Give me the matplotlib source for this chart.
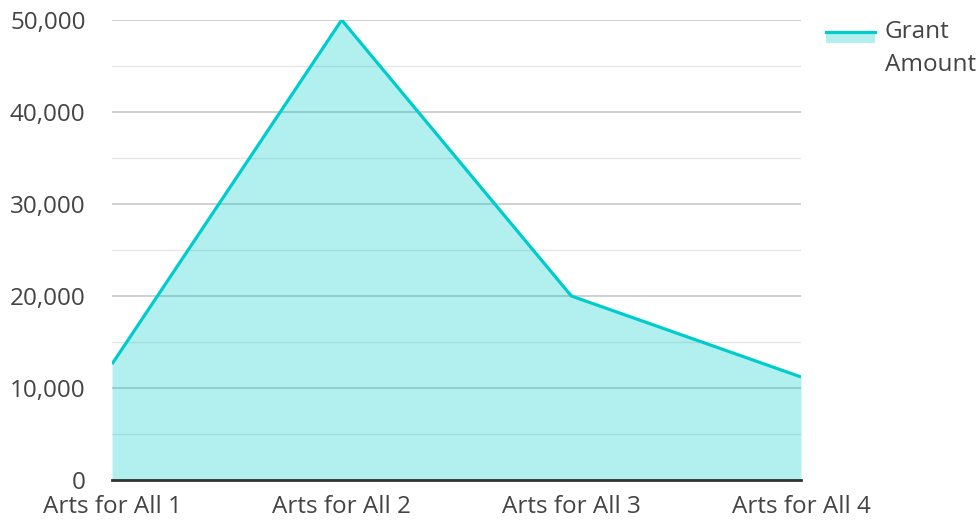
import matplotlib.pyplot as plt
from matplotlib.patches import Rectangle
from matplotlib.lines import Line2D
from matplotlib.ticker import FuncFormatter, MultipleLocator

plt.rcParams['font.family'] = ['Open Sans', 'DejaVu Sans']

categories = ['Arts for All 1', 'Arts for All 2', 'Arts for All 3', 'Arts for All 4']
grant_amount = [12600, 50000, 20000, 11200]
series_name = 'Grant\nAmount'

line_col = '#00cccc'
fill_col = '#b2efee'

fig = plt.figure(figsize=(9.78, 5.2), dpi=100)
ax = fig.add_axes([112 / 978, 40 / 520, 689 / 978, 460 / 520])

x = range(len(categories))
ax.fill_between(x, grant_amount, 0, color=line_col, alpha=0.3, lw=0, zorder=3)
ax.plot(x, grant_amount, color=line_col, lw=2.3, zorder=4, solid_capstyle='butt')

ax.set_xlim(0, len(categories) - 1)
ax.set_ylim(0, 50000)
ax.yaxis.set_major_locator(MultipleLocator(10000))
ax.yaxis.set_minor_locator(MultipleLocator(5000))
ax.yaxis.set_major_formatter(FuncFormatter(lambda v, p: f'{int(v):,}'))
ax.grid(axis='y', which='major', color='#c8c8c8', lw=1.2, zorder=1)
ax.grid(axis='y', which='minor', color='#e6e6e6', lw=1.0, zorder=1)
ax.set_xticks(list(x))
ax.set_xticklabels(categories)

for s in ['top', 'right', 'left']:
    ax.spines[s].set_visible(False)
ax.spines['bottom'].set_color('#333333')
ax.spines['bottom'].set_linewidth(2)
ax.spines['bottom'].set_zorder(5)
ax.tick_params(axis='both', which='both', length=0, labelsize=17.5, labelcolor='#444444')
ax.tick_params(axis='y', pad=19)
ax.tick_params(axis='x', pad=11)

# legend
fig.add_artist(Rectangle((826 / 978, (520 - 43) / 520), 49 / 978, 12 / 520,
                         transform=fig.transFigure, color=line_col, alpha=0.3, lw=0))
fig.add_artist(Line2D([826 / 978, 875 / 978], [(520 - 32) / 520] * 2,
                      transform=fig.transFigure, color=line_col, lw=2.3))
fig.text(885 / 978, (520 - 20) / 520, series_name, fontsize=17.5, color='#444444',
         va='top', ha='left', linespacing=1.5)

fig.savefig('out.png', dpi=100)
